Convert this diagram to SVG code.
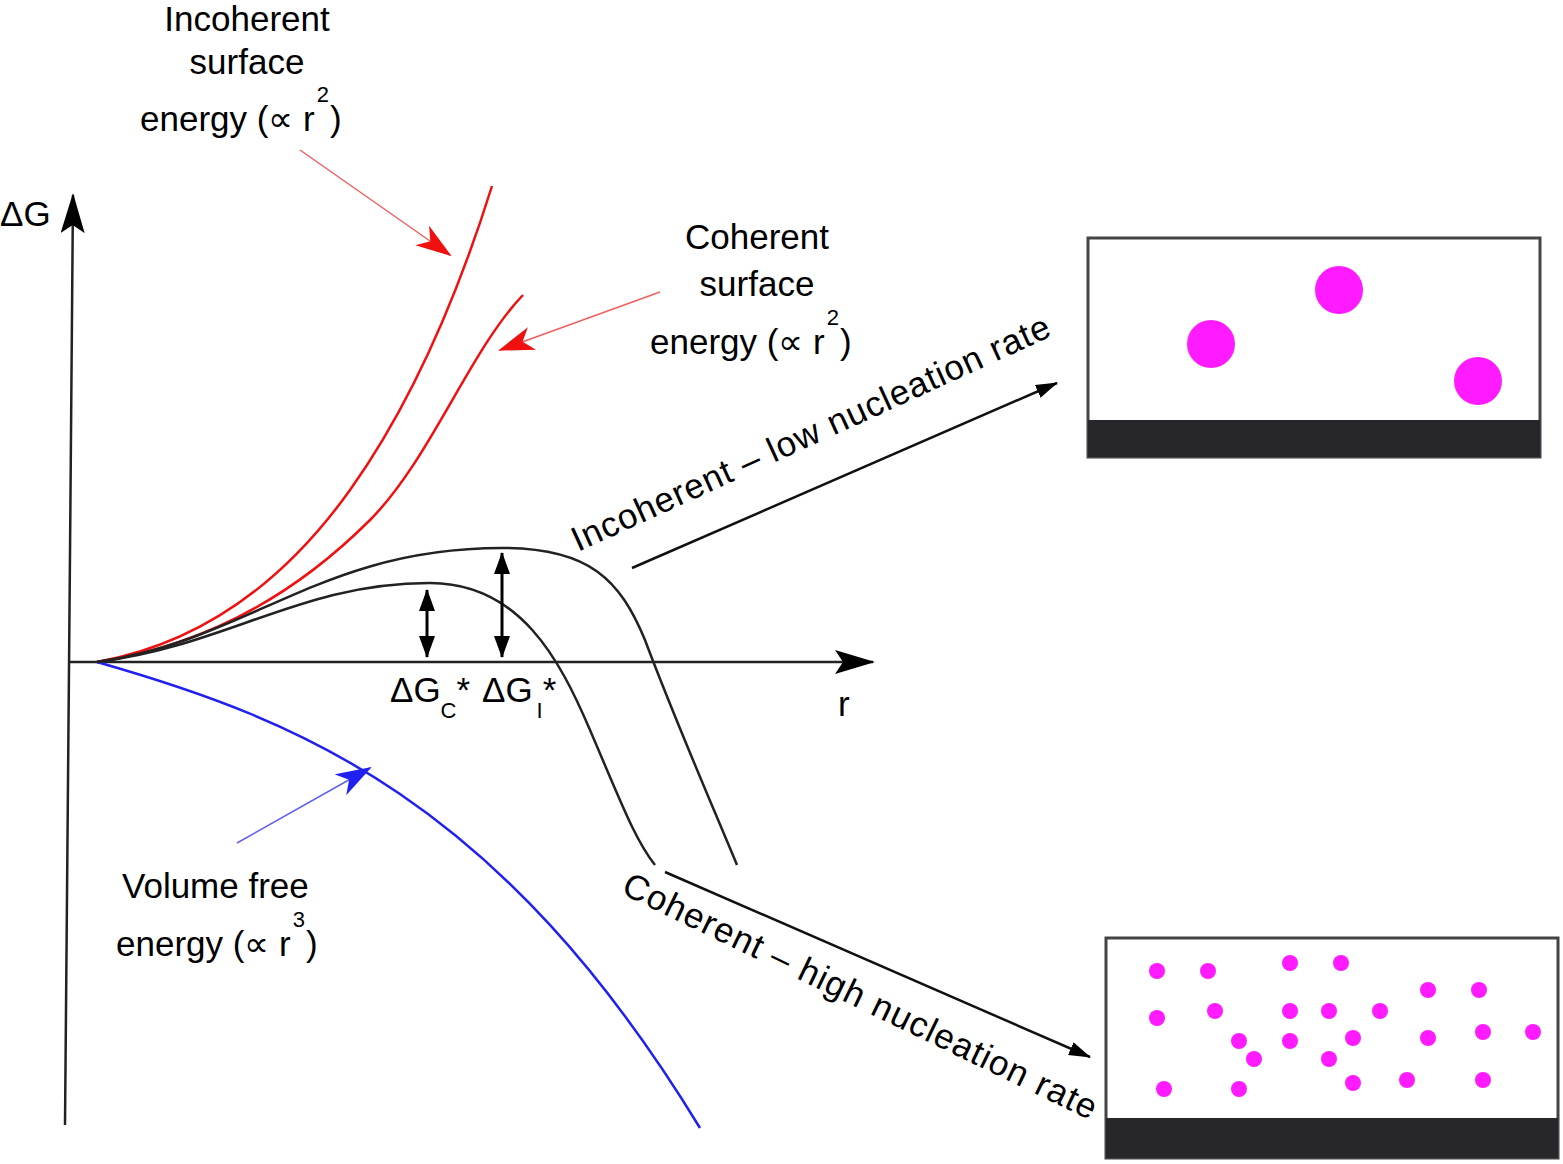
<svg xmlns="http://www.w3.org/2000/svg" width="1563" height="1164" viewBox="0 0 1563 1164">
<style>
text{font-family:"Liberation Sans",Arial,sans-serif;font-size:35px;fill:#000}
.sup{font-size:22px}
.kt{fill:none;stroke:#222;stroke-width:2.5}
.r{fill:none;stroke:#f01010;stroke-width:2.5}
.b{fill:none;stroke:#2020f0;stroke-width:2.5}
.dot{fill:#ff1aff}
</style>
<defs>
<marker id="akb" markerWidth="40" markerHeight="24" refX="38" refY="12" orient="auto" markerUnits="userSpaceOnUse" viewBox="0 0 40 24"><path d="M0,0L40,12L0,24L8,12z" fill="#000"/></marker>
<marker id="akd" markerWidth="22" markerHeight="16" refX="21" refY="8" orient="auto-start-reverse" markerUnits="userSpaceOnUse" viewBox="0 0 22 16"><path d="M0,0L22,8L0,16z" fill="#000"/></marker>
<marker id="ar" markerWidth="36" markerHeight="24" refX="34" refY="12" orient="auto" markerUnits="userSpaceOnUse" viewBox="0 0 36 24"><path d="M0,0L36,12L0,24L10,12z" fill="#f01010"/></marker>
<marker id="ab" markerWidth="36" markerHeight="24" refX="34" refY="12" orient="auto" markerUnits="userSpaceOnUse" viewBox="0 0 36 24"><path d="M0,0L36,12L0,24L10,12z" fill="#2020f0"/></marker>
<marker id="as" markerWidth="22" markerHeight="14" refX="21" refY="7" orient="auto" markerUnits="userSpaceOnUse" viewBox="0 0 22 14"><path d="M0,0L22,7L0,14z" fill="#000"/></marker>
</defs>
<g id="axes">
<path class="kt" d="M65,1125 C68,900 70,500 73,195" marker-end="url(#akb)"/>
<path class="kt" d="M68,662 L873,662" marker-end="url(#akb)"/>
<text x="0" y="226">ΔG</text>
<text x="838" y="716">r</text>
</g>
<g id="curves">
<path class="r" d="M97,662 C220,640 300,560 350,490 C400,420 450,320 492,186"/>
<path class="r" d="M97,662 C210,645 300,590 370,520 C430,460 470,350 523,295"/>
<path class="b" d="M97,662 C300,720 500,800 700,1128"/>
<path class="kt" d="M97,662 C250,640 320,548 502,548 C590,548 620,580 645,640 C675,720 710,800 737,865"/>
<path class="kt" d="M97,662 C230,645 300,583 430,583 C520,583 560,660 590,730 C620,800 635,840 655,865"/>
</g>
<g id="connectors">
<path d="M427,590 L427,657" stroke="#000" stroke-width="3" marker-start="url(#akd)" marker-end="url(#akd)"/>
<path d="M502,553 L502,657" stroke="#000" stroke-width="3" marker-start="url(#akd)" marker-end="url(#akd)"/>
<path d="M300,150 L450,255" stroke="#f06060" stroke-width="1.5" marker-end="url(#ar)"/>
<path d="M660,292 L500,350" stroke="#f06060" stroke-width="1.5" marker-end="url(#ar)"/>
<path d="M237,843 L370,768" stroke="#6060f0" stroke-width="1.5" marker-end="url(#ab)"/>
<path d="M632,568 L1057,383" stroke="#111" stroke-width="2.5" marker-end="url(#as)"/>
<path d="M665,872 L1090,1057" stroke="#111" stroke-width="2.5" marker-end="url(#as)"/>
</g>
<g id="labels">
<text x="247" y="31" text-anchor="middle">Incoherent</text>
<text x="247" y="74" text-anchor="middle">surface</text>
<text x="140" y="131">energy (∝ r<tspan class="sup" dx="2" dy="-29">2</tspan><tspan dx="1" dy="29">)</tspan></text>
<text x="757" y="249" text-anchor="middle">Coherent</text>
<text x="757" y="296" text-anchor="middle">surface</text>
<text x="650" y="354">energy (∝ r<tspan class="sup" dx="2" dy="-29">2</tspan><tspan dx="1" dy="29">)</tspan></text>
<text x="122" y="898">Volume free</text>
<text x="116" y="956">energy (∝ r<tspan class="sup" dx="2" dy="-29">3</tspan><tspan dx="1" dy="29">)</tspan></text>
<text x="390" y="702">ΔG<tspan class="sup" dy="16">C</tspan><tspan dy="-16">*</tspan></text>
<text x="482" y="702">ΔG<tspan class="sup" dx="4" dy="16">I</tspan><tspan dy="-16">*</tspan></text>
<text transform="translate(578,552) rotate(-24.5)" textLength="522" lengthAdjust="spacing">Incoherent – low nucleation rate</text>
<text transform="translate(620,893) rotate(25.8)" textLength="522" lengthAdjust="spacing">Coherent – high nucleation rate</text>
</g>
<g id="box-low">
<rect x="1088" y="238" width="452" height="219" fill="#fff" stroke="#444" stroke-width="3"/>
<rect x="1088" y="420" width="452" height="37" fill="#27262b"/>
<circle class="dot" cx="1339" cy="290" r="24"/>
<circle class="dot" cx="1211" cy="344" r="24"/>
<circle class="dot" cx="1478" cy="381" r="24"/>
</g>
<g id="box-high">
<rect x="1106" y="938" width="452" height="220" fill="#fff" stroke="#444" stroke-width="3"/>
<rect x="1106" y="1118" width="452" height="40" fill="#27262b"/>
<g class="dot">
<circle cx="1157" cy="971" r="8"/><circle cx="1208" cy="971" r="8"/><circle cx="1290" cy="963" r="8"/><circle cx="1341" cy="963" r="8"/><circle cx="1428" cy="990" r="8"/><circle cx="1479" cy="990" r="8"/>
<circle cx="1157" cy="1018" r="8"/><circle cx="1215" cy="1011" r="8"/><circle cx="1290" cy="1011" r="8"/><circle cx="1329" cy="1011" r="8"/><circle cx="1380" cy="1011" r="8"/>
<circle cx="1239" cy="1041" r="8"/><circle cx="1290" cy="1041" r="8"/><circle cx="1353" cy="1038" r="8"/><circle cx="1428" cy="1038" r="8"/><circle cx="1483" cy="1032" r="8"/><circle cx="1533" cy="1032" r="8"/>
<circle cx="1254" cy="1059" r="8"/><circle cx="1329" cy="1059" r="8"/>
<circle cx="1164" cy="1089" r="8"/><circle cx="1239" cy="1089" r="8"/><circle cx="1353" cy="1083" r="8"/><circle cx="1407" cy="1080" r="8"/><circle cx="1483" cy="1080" r="8"/>
</g>
</g>
</svg>
